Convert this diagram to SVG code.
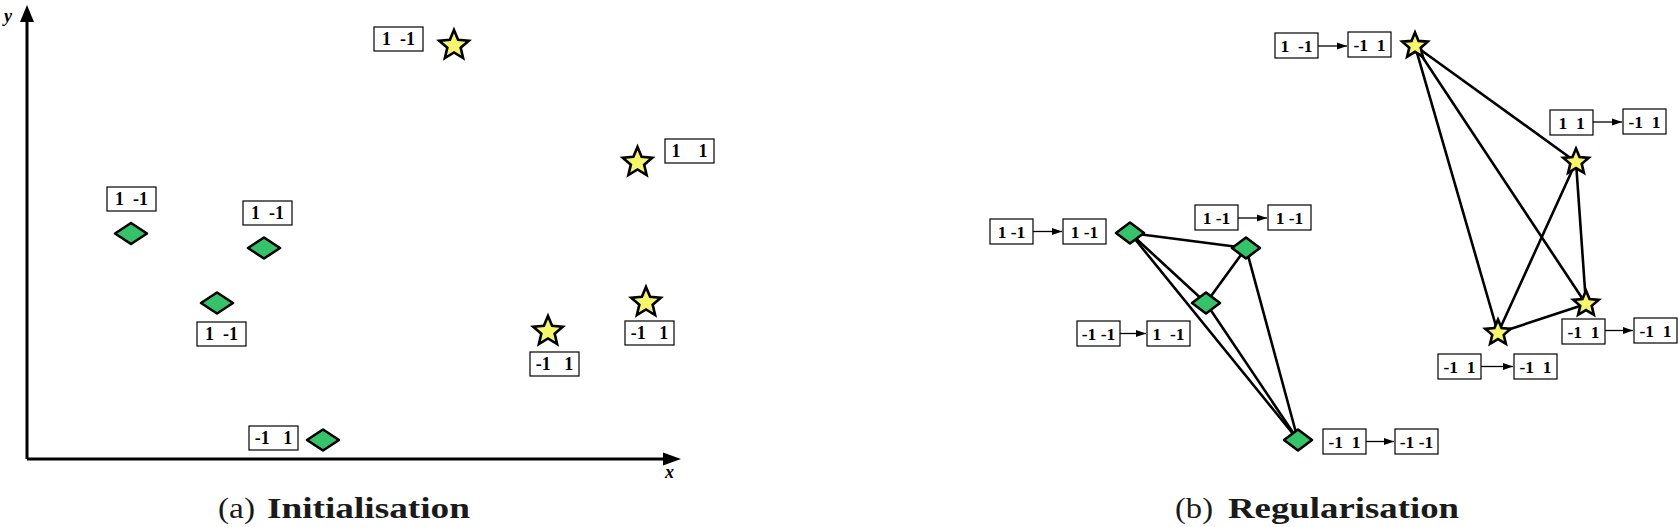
<svg xmlns="http://www.w3.org/2000/svg" width="1679" height="527" viewBox="0 0 1679 527">
<style>
.axis{stroke:#000;stroke-width:3;fill:none}
.edge{stroke:#000;stroke-width:2.6;fill:none;stroke-linecap:round}
.arr{stroke:#000;stroke-width:1.3;fill:none}
.box{fill:#fff;stroke:#000;stroke-width:1.2}
.dia{fill:#36c268;stroke:#000;stroke-width:2.6;stroke-linejoin:round}
.star{fill:#f6f66c;stroke:#000;stroke-width:2.6;stroke-linejoin:miter}
.lt{font-family:"Liberation Serif",serif;font-weight:bold;font-size:18px;white-space:pre;text-anchor:middle;fill:#000}
.rt{font-family:"Liberation Serif",serif;font-weight:bold;font-size:17.5px;white-space:pre;text-anchor:middle;fill:#000}
.ax{font-family:"Liberation Serif",serif;font-weight:bold;font-style:italic;font-size:18px;fill:#000}
.cap{font-family:"Liberation Serif",serif;font-size:29px;fill:#1a1a1a}
</style>
<defs>
<path id="starL" d="M0,-15.5 L4.10,-5.65 L14.74,-4.79 L6.64,2.16 L9.11,12.54 L0,6.98 L-9.11,12.54 L-6.64,2.16 L-14.74,-4.79 L-4.10,-5.65 Z"/>
<path id="starR" d="M0,-13.4 L3.54,-4.88 L12.74,-4.14 L5.73,1.86 L7.88,10.84 L0,6.03 L-7.88,10.84 L-5.73,1.86 L-12.74,-4.14 L-3.54,-4.88 Z"/>
<path id="diaL" d="M-16,0 L0,-10.5 L16,0 L0,10.5 Z"/>
<path id="diaR" d="M-14,0 L0,-10.5 L14,0 L0,10.5 Z"/>
<marker id="ah" markerUnits="userSpaceOnUse" markerWidth="11" markerHeight="8" refX="10" refY="4" orient="auto">
<path d="M0,0.5 L10,4 L0,7.5 Z" fill="#000"/>
</marker>
</defs>

<!-- Panel (a): axes -->
<g id="axes">
<line class="axis" x1="27" y1="459" x2="27" y2="20"/>
<path d="M20,22 L27,5 L34,22 Z" fill="#000"/>
<line class="axis" x1="27" y1="459" x2="665" y2="459"/>
<path d="M663,452.5 L681,459 L663,465.5 Z" fill="#000"/>
<text class="ax" x="4" y="22">y</text>
<text class="ax" x="665" y="478">x</text>
</g>

<!-- Panel (a): nodes -->
<g id="a-star1"><use href="#starL" class="star" transform="translate(454,45.5)"/><rect class="box" x="374" y="27" width="49" height="24"/><text class="lt" x="398.5" y="45">1  -1</text></g>
<g id="a-star2"><use href="#starL" class="star" transform="translate(637.5,162.5)"/><rect class="box" x="665" y="139" width="49" height="24"/><text class="lt" x="689.5" y="157">1    1</text></g>
<g id="a-star3"><use href="#starL" class="star" transform="translate(548,331.5)"/><rect class="box" x="530" y="352" width="49" height="24"/><text class="lt" x="554.5" y="370">-1   1</text></g>
<g id="a-star4"><use href="#starL" class="star" transform="translate(646,302.5)"/><rect class="box" x="625" y="321" width="49" height="24"/><text class="lt" x="649.5" y="339">-1   1</text></g>
<g id="a-dia1"><use href="#diaL" class="dia" transform="translate(131,233.5)"/><rect class="box" x="107" y="187" width="49" height="24"/><text class="lt" x="131.5" y="205">1  -1</text></g>
<g id="a-dia2"><use href="#diaL" class="dia" transform="translate(264,248)"/><rect class="box" x="243" y="201" width="49" height="24"/><text class="lt" x="267.5" y="219">1  -1</text></g>
<g id="a-dia3"><use href="#diaL" class="dia" transform="translate(217,303)"/><rect class="box" x="197" y="322" width="49" height="24"/><text class="lt" x="221.5" y="340">1  -1</text></g>
<g id="a-dia4"><use href="#diaL" class="dia" transform="translate(323,440)"/><rect class="box" x="249" y="426" width="49" height="24"/><text class="lt" x="273.5" y="444">-1   1</text></g>

<!-- Panel (b): connectors -->
<g id="connectors">
<line class="edge" x1="1130" y1="233" x2="1246" y2="248"/>
<line class="edge" x1="1130" y1="233" x2="1206" y2="303"/>
<line class="edge" x1="1130" y1="233" x2="1298" y2="440"/>
<line class="edge" x1="1246" y1="248" x2="1206" y2="303"/>
<line class="edge" x1="1246" y1="248" x2="1298" y2="440"/>
<line class="edge" x1="1206" y1="303" x2="1298" y2="440"/>
<line class="edge" x1="1415" y1="45.8" x2="1576" y2="162"/>
<line class="edge" x1="1415" y1="45.8" x2="1498" y2="333"/>
<line class="edge" x1="1415" y1="45.8" x2="1586" y2="304"/>
<line class="edge" x1="1576" y1="162" x2="1498" y2="333"/>
<line class="edge" x1="1576" y1="162" x2="1586" y2="304"/>
<line class="edge" x1="1498" y1="333" x2="1586" y2="304"/>
<line class="arr" x1="1033" y1="231.5" x2="1062" y2="231.5" marker-end="url(#ah)"/>
<line class="arr" x1="1238" y1="218" x2="1267" y2="218" marker-end="url(#ah)"/>
<line class="arr" x1="1120" y1="333.5" x2="1146" y2="333.5" marker-end="url(#ah)"/>
<line class="arr" x1="1366" y1="441.5" x2="1394" y2="441.5" marker-end="url(#ah)"/>
<line class="arr" x1="1481" y1="366.5" x2="1513" y2="366.5" marker-end="url(#ah)"/>
<line class="arr" x1="1604" y1="330.5" x2="1633" y2="330.5" marker-end="url(#ah)"/>
<line class="arr" x1="1593" y1="122" x2="1622" y2="122" marker-end="url(#ah)"/>
<line class="arr" x1="1318" y1="46" x2="1347" y2="46" marker-end="url(#ah)"/>
</g>

<!-- Panel (b): nodes -->
<g id="b-diaA"><use href="#diaR" class="dia" transform="translate(1130,233)"/><rect class="box" x="990" y="219" width="43" height="25"/><text class="rt" x="1011.5" y="237.5">1 -1</text><rect class="box" x="1063" y="219" width="43" height="25"/><text class="rt" x="1084.5" y="237.5">1 -1</text></g>
<g id="b-diaB"><use href="#diaR" class="dia" transform="translate(1246,248)"/><rect class="box" x="1195" y="205" width="43" height="25"/><text class="rt" x="1216.5" y="223.5">1 -1</text><rect class="box" x="1268" y="205" width="43" height="25"/><text class="rt" x="1289.5" y="223.5">1 -1</text></g>
<g id="b-diaC"><use href="#diaR" class="dia" transform="translate(1206,303)"/><rect class="box" x="1077" y="321" width="43" height="25"/><text class="rt" x="1098.5" y="339.5">-1 -1</text><rect class="box" x="1147" y="321" width="43" height="25"/><text class="rt" x="1168.5" y="339.5">1  -1</text></g>
<g id="b-diaD"><use href="#diaR" class="dia" transform="translate(1298,440)"/><rect class="box" x="1323" y="429" width="43" height="25"/><text class="rt" x="1344.5" y="447.5">-1  1</text><rect class="box" x="1395" y="429" width="43" height="25"/><text class="rt" x="1416.5" y="447.5">-1 -1</text></g>
<g id="b-starG"><use href="#starR" class="star" transform="translate(1415,45.8)"/><rect class="box" x="1275" y="33" width="43" height="25"/><text class="rt" x="1296.5" y="51.5">1  -1</text><rect class="box" x="1348" y="32" width="43" height="25"/><text class="rt" x="1369.5" y="50.5">-1  1</text></g>
<g id="b-starH"><use href="#starR" class="star" transform="translate(1576,162)"/><rect class="box" x="1550" y="110" width="43" height="25"/><text class="rt" x="1571.5" y="128.5">1  1</text><rect class="box" x="1623" y="109" width="43" height="25"/><text class="rt" x="1644.5" y="127.5">-1  1</text></g>
<g id="b-starE"><use href="#starR" class="star" transform="translate(1498,333)"/><rect class="box" x="1438" y="354" width="43" height="25"/><text class="rt" x="1459.5" y="372.5">-1  1</text><rect class="box" x="1514" y="354" width="43" height="25"/><text class="rt" x="1535.5" y="372.5">-1  1</text></g>
<g id="b-starF"><use href="#starR" class="star" transform="translate(1586,304)"/><rect class="box" x="1562" y="319" width="43" height="25"/><text class="rt" x="1583.5" y="337.5">-1  1</text><rect class="box" x="1634" y="318" width="43" height="25"/><text class="rt" x="1655.5" y="336.5">-1  1</text></g>

<!-- Captions -->
<g id="captions">
<text class="cap" y="518"><tspan x="218" textLength="37" lengthAdjust="spacingAndGlyphs">(a)</tspan> <tspan x="267" font-weight="bold" textLength="203" lengthAdjust="spacingAndGlyphs">Initialisation</tspan></text>
<text class="cap" y="518"><tspan x="1175" textLength="38" lengthAdjust="spacingAndGlyphs">(b)</tspan> <tspan x="1228" font-weight="bold" textLength="231" lengthAdjust="spacingAndGlyphs">Regularisation</tspan></text>
</g>
</svg>
